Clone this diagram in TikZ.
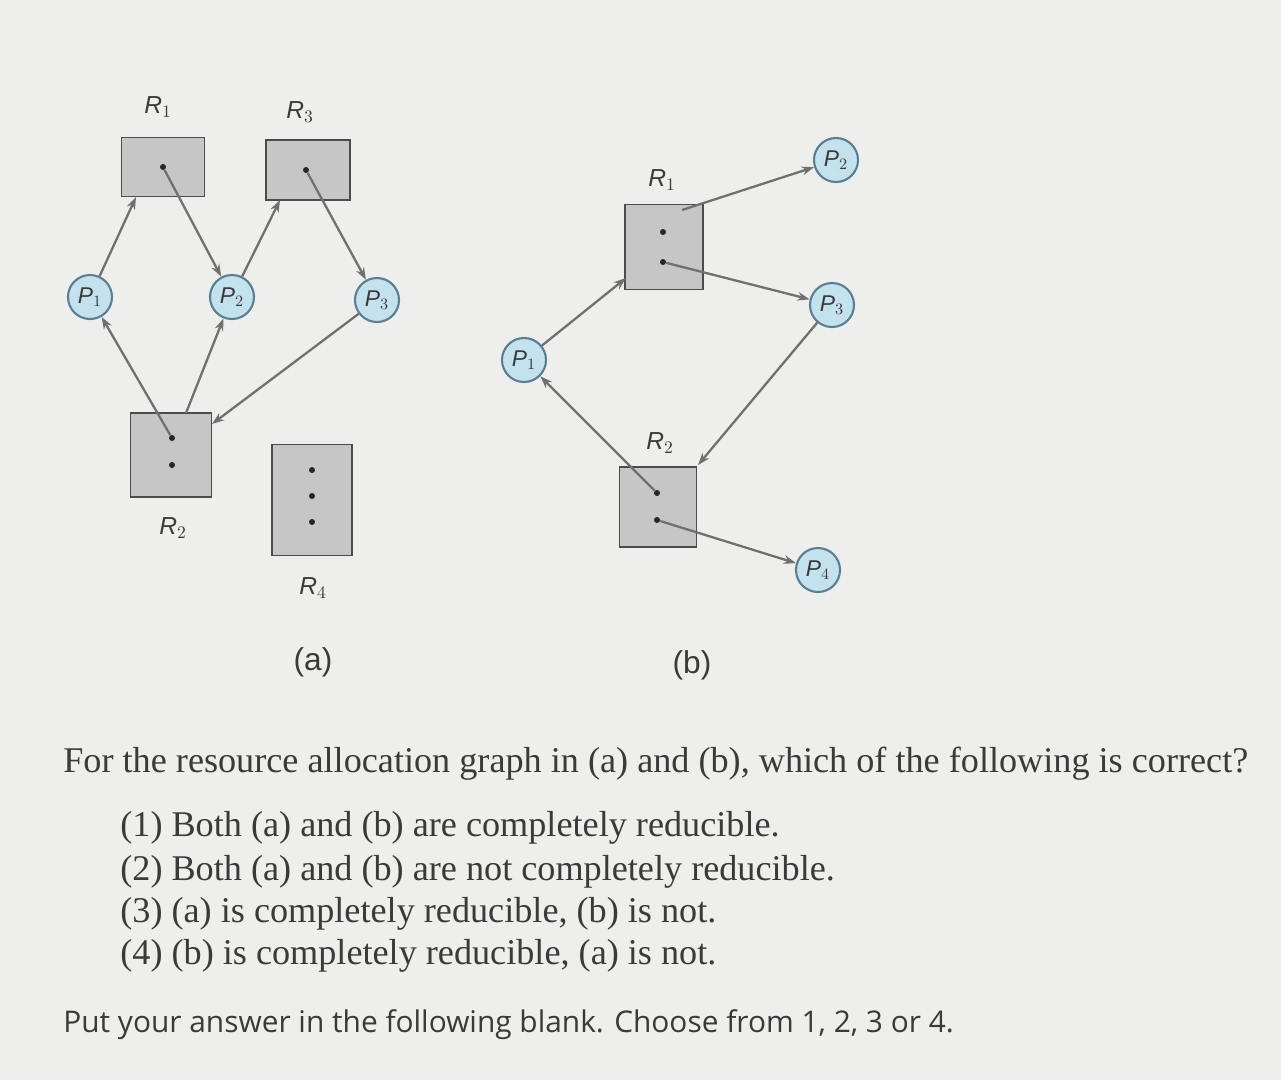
\documentclass[tikz,border=0pt]{standalone}
\usepackage{fontspec}
\setmainfont{Liberation Serif}
\newfontfamily\labfont{Liberation Sans}
\newfontfamily\opensans{Open Sans}
\usetikzlibrary{arrows.meta}
\definecolor{bg}{HTML}{EEEEEC}
\definecolor{pfill}{HTML}{C4E2EE}
\definecolor{pline}{HTML}{5A7E92}
\definecolor{rfill}{HTML}{C6C6C6}
\definecolor{edge}{HTML}{707070}
\definecolor{txt}{HTML}{3A3A3A}
\newlength{\unitpx}\setlength{\unitpx}{0.02cm}
\tikzset{
 proc/.style={circle,draw=pline,fill=pfill,line width=1.2pt,minimum size=44\unitpx,inner sep=0pt,font=\labfont\itshape\fontsize{13}{13}\selectfont,text=txt},
 res/.style={draw=black!70,fill=rfill,line width=1pt,inner sep=0pt},
 dotn/.style={circle,fill=black!85,minimum size=6\unitpx,inner sep=0pt},
 lab/.style={font=\labfont\itshape\fontsize{14}{14}\selectfont,text=txt},
 captext/.style={font=\labfont\fontsize{18}{18}\selectfont,text=txt},
 qtext/.style={font=\fontsize{20.6}{24}\selectfont,text=txt,anchor=west,inner sep=0pt},
 con/.style={draw=edge,line width=1.3pt,-{Stealth[length=7pt,width=5pt]}},
}
\begin{document}
\begin{tikzpicture}[x=0.02cm,y=-0.02cm]
\fill[bg] (0,0) rectangle (1281,1080);
\useasboundingbox (0,0) rectangle (1281,1080);
% (a)
\node[res,minimum width=83\unitpx,minimum height=59\unitpx] (aR1) at (163,167) {};
\node[res,minimum width=84\unitpx,minimum height=60\unitpx] (aR3) at (308,170) {};
\node[res,minimum width=81\unitpx,minimum height=84\unitpx] (aR2) at (171,455) {};
\node[res,minimum width=80\unitpx,minimum height=111\unitpx] (aR4) at (312,500) {};
\node[dotn] (aR1d) at (163,167) {};
\node[dotn] (aR3d) at (306,170) {};
\node[dotn] (aR2a) at (172,438) {};
\node[dotn] (aR2b) at (172,465) {};
\node[dotn] (aR4a) at (312,470) {};
\node[dotn] (aR4b) at (312,496) {};
\node[dotn] (aR4c) at (312,522) {};
\node[proc] (aP1) at (90,297) {P$_1$};
\node[proc] (aP2) at (232,297) {P$_2$};
\node[proc] (aP3) at (377,300) {P$_3$};
\node[lab] (laR1) at (158,107) {R$_1$};
\node[lab] (laR3) at (300,112) {R$_3$};
\node[lab] (laR2) at (173,528) {R$_2$};
\node[lab] (laR4) at (313,588) {R$_4$};
\node[captext] (capa) at (313,662) {(a)};
\coordinate (aR1b) at (136,197);
\coordinate (aR3b) at (280,200);
\coordinate (aR2r) at (212,424);
\coordinate (aR2t) at (186,413);
\draw[con] (aP1) -- (aR1b);
\draw[con] (aR1d) -- (aP2);
\draw[con] (aP2) -- (aR3b);
\draw[con] (aR3d) -- (aP3);
\draw[con] (aR2a) -- (aP1);
\draw[con] (aR2t) -- (aP2);
\draw[con] (aP3) -- (aR2r);
% (b)
\node[res,minimum width=78\unitpx,minimum height=85\unitpx] (bR1) at (664,247) {};
\node[res,minimum width=77\unitpx,minimum height=80\unitpx] (bR2) at (658,507) {};
\node[dotn] (bR1a) at (663,232) {};
\node[dotn] (bR1b) at (663,262) {};
\node[dotn] (bR2a) at (657,493) {};
\node[dotn] (bR2b) at (657,520) {};
\node[proc] (bP2) at (836,160) {P$_2$};
\node[proc] (bP3) at (832,305) {P$_3$};
\node[proc] (bP1) at (524,360) {P$_1$};
\node[proc] (bP4) at (818,570) {P$_4$};
\node[lab] (lbR1) at (662,180) {R$_1$};
\node[lab] (lbR2) at (660,443) {R$_2$};
\node[captext] (capb) at (692,665) {(b)};
\coordinate (bR1l) at (626,278);
\coordinate (bR1t) at (682,210);
\coordinate (bR2r) at (698,465);
\draw[con] (bP1) -- (bR1l);
\draw[con] (bR1t) -- (bP2);
\draw[con] (bR1b) -- (bP3);
\draw[con] (bP3) -- (bR2r);
\draw[con] (bR2a) -- (bP1);
\draw[con] (bR2b) -- (bP4);
% question
\node[qtext] (q0) at (63,764) {For the resource allocation graph in (a) and (b), which of the following is correct?};
\node[qtext] (q1) at (120,828) {(1) Both (a) and (b) are completely reducible.};
\node[qtext] (q2) at (120,872) {(2) Both (a) and (b) are not completely reducible.};
\node[qtext] (q3) at (120,914) {(3) (a) is completely reducible, (b) is not.};
\node[qtext] (q4) at (120,956) {(4) (b) is completely reducible, (a) is not.};
\node[qtext,font=\opensans\fontsize{17}{20}\selectfont] (q5) at (63,1025) {Put your answer in the following blank. Choose from 1, 2, 3 or 4.};
\end{tikzpicture}
\end{document}
